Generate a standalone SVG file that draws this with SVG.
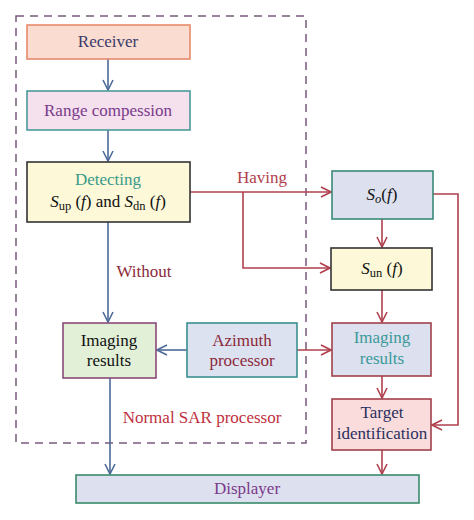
<svg xmlns="http://www.w3.org/2000/svg" width="474" height="520" viewBox="0 0 474 520" font-family="'Liberation Serif', 'DejaVu Serif', serif">
<defs>
<style>
text{font-family:"Liberation Serif","DejaVu Serif",serif;font-size:17px;text-anchor:middle}
.box{stroke-width:1.6}
.blue{stroke:#4d6a98;stroke-width:1.6;fill:none}
.red{stroke:#b0404e;stroke-width:1.6;fill:none}
.it{font-style:italic}
.sub{font-size:12.5px}
</style>
<marker id="ab" viewBox="0 0 12 12" refX="11" refY="6" markerWidth="12" markerHeight="12" markerUnits="userSpaceOnUse" orient="auto"><path d="M1 1 L11 6 L1 11" fill="none" stroke="#4d6a98" stroke-width="1.6"/></marker>
<marker id="ar" viewBox="0 0 12 12" refX="11" refY="6" markerWidth="12" markerHeight="12" markerUnits="userSpaceOnUse" orient="auto"><path d="M1 1 L11 6 L1 11" fill="none" stroke="#b0404e" stroke-width="1.6"/></marker>
</defs>
<rect width="474" height="520" fill="#fff"/>
<rect x="16" y="16" width="290" height="427" fill="none" stroke="#7a5a80" stroke-width="1.5" stroke-dasharray="8,6"/>
<g id="connectors">
<path class="blue" d="M108 59 V90" marker-end="url(#ab)"/>
<path class="blue" d="M108 130 V161" marker-end="url(#ab)"/>
<path class="blue" d="M108 222 V322" marker-end="url(#ab)"/>
<path class="blue" d="M187 350 H157" marker-end="url(#ab)"/>
<path class="blue" d="M110 378 V474" marker-end="url(#ab)"/>
<path class="red" d="M297 350 H331" marker-end="url(#ar)"/>
<path class="red" d="M190 192 H331" marker-end="url(#ar)"/>
<path class="red" d="M243 192 V268 H330" marker-end="url(#ar)"/>
<path class="red" d="M382 219 V247" marker-end="url(#ar)"/>
<path class="red" d="M433 194 H458 V425 H432" marker-end="url(#ar)"/>
<path class="red" d="M382 290 V322" marker-end="url(#ar)"/>
<path class="red" d="M382 376 V398" marker-end="url(#ar)"/>
<path class="red" d="M382 450 V474" marker-end="url(#ar)"/>
<text x="144" y="277" fill="#8b2a3a">Without</text>
<text x="262" y="183" fill="#b0404e">Having</text>
<text x="202" y="423" fill="#c0303e">Normal SAR processor</text>
</g>
<g id="receiver">
<rect class="box" x="27" y="25" width="163" height="34" fill="#fadcd0" stroke="#e8896b"/>
<text x="108" y="47" fill="#3a3a6a">Receiver</text>
</g>
<g id="range">
<rect class="box" x="27" y="91" width="163" height="39" fill="#f5e0ee" stroke="#4a9a9a"/>
<text x="108" y="116" fill="#7a3a8a">Range compession</text>
</g>
<g id="detecting">
<rect class="box" x="27" y="162" width="163" height="60" fill="#fcf8d8" stroke="#333"/>
<text x="108" y="185" fill="#3a9a8a">Detecting</text>
<text x="108" y="207" fill="#111"><tspan class="it">S</tspan><tspan class="sub" dy="3">up</tspan><tspan dy="-3"> (</tspan><tspan class="it">f</tspan>) and <tspan class="it">S</tspan><tspan class="sub" dy="3">dn</tspan><tspan dy="-3"> (</tspan><tspan class="it">f</tspan>)</text>
</g>
<g id="imaging-left">
<rect class="box" x="63" y="323" width="93" height="55" fill="#e3f0d8" stroke="#8a4a7a"/>
<text x="109" y="346" fill="#111">Imaging</text>
<text x="109" y="366" fill="#111">results</text>
</g>
<g id="azimuth">
<rect class="box" x="187" y="323" width="110" height="54" fill="#dde2f0" stroke="#3a9090"/>
<text x="242" y="346" fill="#8b2a3a">Azimuth</text>
<text x="242" y="366" fill="#8b2a3a">processor</text>
</g>
<g id="so">
<rect class="box" x="332" y="171" width="101" height="48" fill="#dde0ee" stroke="#3a8a7a"/>
<text x="382" y="200" fill="#111"><tspan class="it">S</tspan><tspan class="sub it" dy="3">o</tspan><tspan dy="-3">(</tspan><tspan class="it">f</tspan>)</text>
</g>
<g id="sun">
<rect class="box" x="331" y="248" width="101" height="42" fill="#fcf8d8" stroke="#333"/>
<text x="382" y="274" fill="#111"><tspan class="it">S</tspan><tspan class="sub" dy="3">un</tspan><tspan dy="-3"> (</tspan><tspan class="it">f</tspan>)</text>
</g>
<g id="imaging-right">
<rect class="box" x="332" y="323" width="99" height="53" fill="#dde0ee" stroke="#a0404a"/>
<text x="382" y="343" fill="#3a9a9a">Imaging</text>
<text x="382" y="364" fill="#3a9a9a">results</text>
</g>
<g id="target">
<rect class="box" x="332" y="399" width="99" height="51" fill="#fadcdc" stroke="#a0404a"/>
<text x="382" y="418" fill="#2a3060">Target</text>
<text x="382" y="439" fill="#2a3060">identification</text>
</g>
<g id="displayer">
<rect class="box" x="76" y="475" width="343" height="28" fill="#dde0ee" stroke="#3a8a6a"/>
<text x="247" y="494" fill="#7a3a8a">Displayer</text>
</g>
</svg>
